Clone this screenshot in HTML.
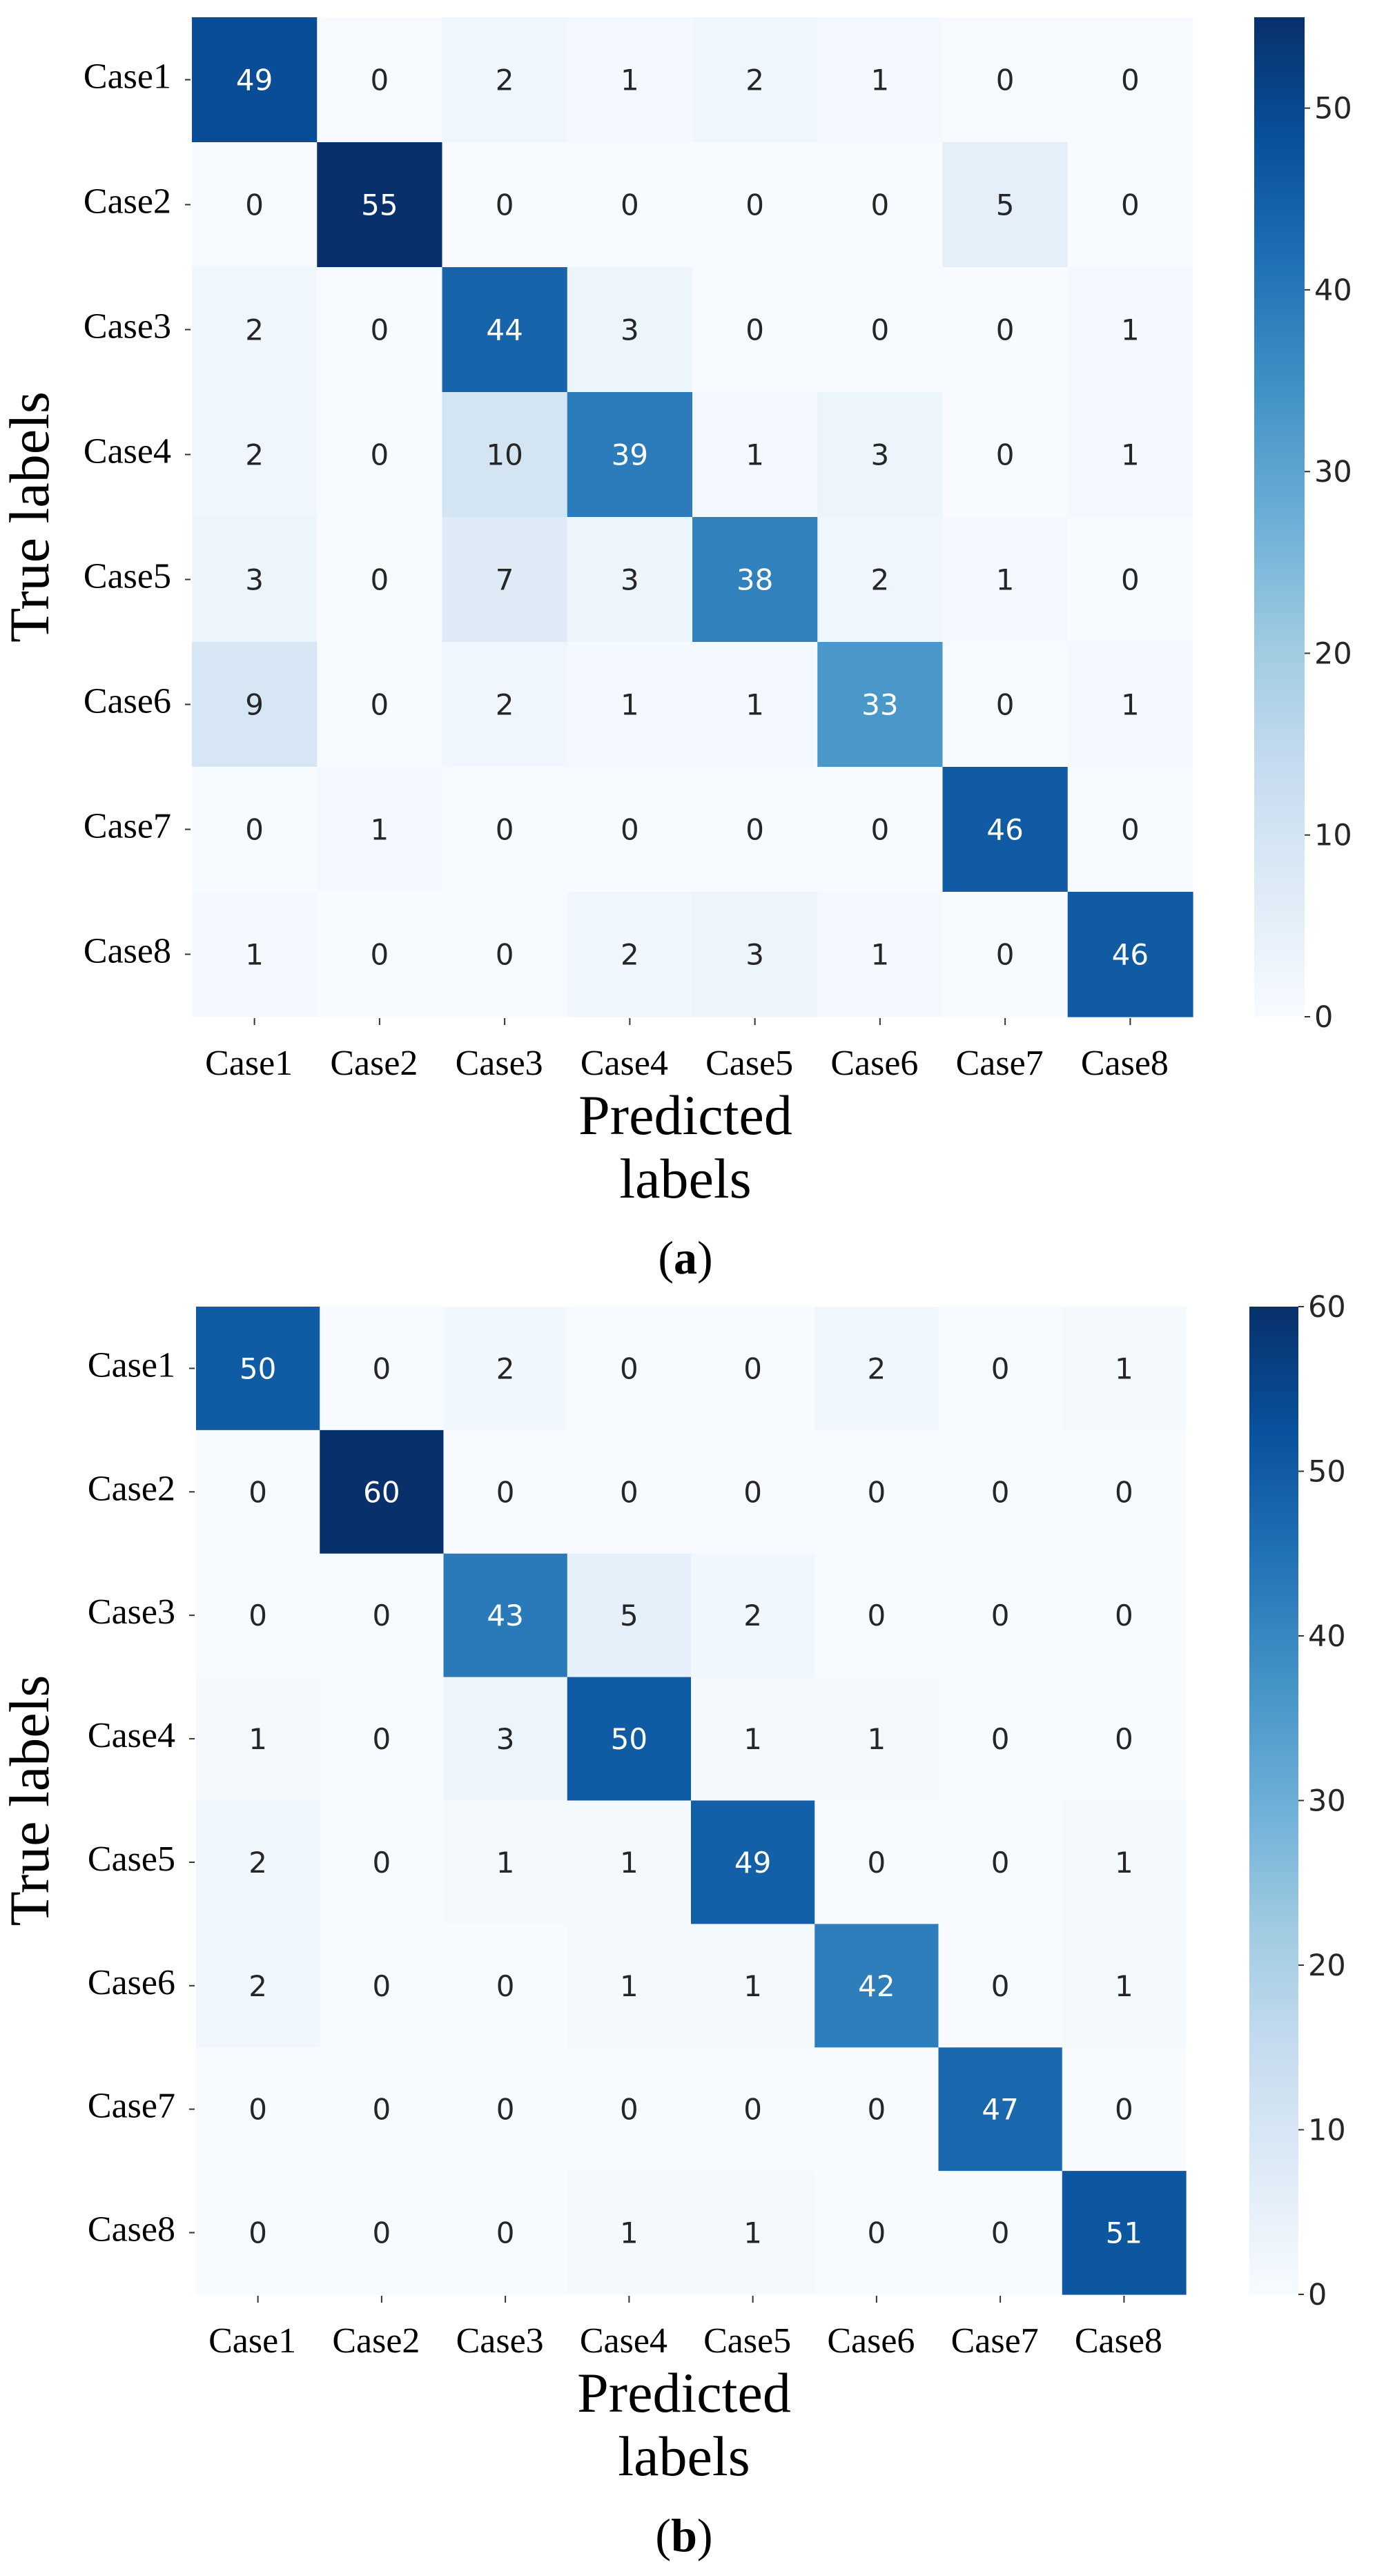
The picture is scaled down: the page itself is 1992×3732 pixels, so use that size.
<!DOCTYPE html>
<html><head><meta charset="utf-8"><style>
html,body{margin:0;padding:0;background:#fff;}
svg{display:block;}
.tick{font-family:"Liberation Serif",serif;font-size:52px;fill:#000;}
.axl{font-family:"Liberation Serif",serif;font-size:82px;fill:#000;}
.ann{font-family:"DejaVu Sans",sans-serif;font-size:42px;}
.cbt{font-family:"DejaVu Sans",sans-serif;font-size:43px;fill:#262626;}
</style></head><body>
<svg id="fig" width="1992" height="3732" viewBox="0 0 1992 3732" xmlns="http://www.w3.org/2000/svg"></svg>
<script>
const categories = ["Case1","Case2","Case3","Case4","Case5","Case6","Case7","Case8"];
const matrixA = [
 [49,0,2,1,2,1,0,0],
 [0,55,0,0,0,0,5,0],
 [2,0,44,3,0,0,0,1],
 [2,0,10,39,1,3,0,1],
 [3,0,7,3,38,2,1,0],
 [9,0,2,1,1,33,0,1],
 [0,1,0,0,0,0,46,0],
 [1,0,0,2,3,1,0,46]
];
const matrixB = [
 [50,0,2,0,0,2,0,1],
 [0,60,0,0,0,0,0,0],
 [0,0,43,5,2,0,0,0],
 [1,0,3,50,1,1,0,0],
 [2,0,1,1,49,0,0,1],
 [2,0,0,1,1,42,0,1],
 [0,0,0,0,0,0,47,0],
 [0,0,0,1,1,0,0,51]
];
const ticksA = [0,10,20,30,40,50];
const ticksB = [0,10,20,30,40,50,60];
const vmaxA = 55, vmaxB = 60;
const captionA = "a", captionB = "b";

const NS="http://www.w3.org/2000/svg";
const svg=document.getElementById('fig');
const stops=["#f7fbff","#deebf7","#c6dbef","#9ecae1","#6baed6","#4292c6","#2171b5","#08519c","#08306b"].map(h=>[parseInt(h.slice(1,3),16),parseInt(h.slice(3,5),16),parseInt(h.slice(5,7),16)]);
function cmap(t){t=Math.max(0,Math.min(1,t));const p=t*8,i=Math.min(7,Math.floor(p)),f=p-i;const c=stops[i].map((v,k)=>Math.round(v+(stops[i+1][k]-v)*f));return c;}
function rgb(c){return `rgb(${c[0]},${c[1]},${c[2]})`;}
function lum(c){const l=c.map(v=>{v/=255;return v<=0.03928?v/12.92:Math.pow((v+0.055)/1.055,2.4)});return 0.2126*l[0]+0.7152*l[1]+0.0722*l[2];}
function el(tag,attrs,parent){const e=document.createElementNS(NS,tag);for(const k in attrs)e.setAttribute(k,attrs[k]);(parent||svg).appendChild(e);return e;}

function drawChart(g,matrix,ticks,vmax,caption,L){
  const n=categories.length, cw=(L.x1-L.x0)/n, ch=(L.y1-L.y0)/n;
  const xS=i=>L.x0+cw*i, yS=i=>L.y0+ch*i;
  for(let r=0;r<n;r++)for(let c=0;c<n;c++){
    const v=matrix[r][c], col=cmap(v/vmax);
    const rc=el('rect',{x:xS(c),y:yS(r),width:cw+0.6,height:ch+0.6,fill:rgb(col)},g);
    
    
    const t=el('text',{x:xS(c)+cw/2,y:yS(r)+ch/2+15,'text-anchor':'middle',class:'ann',fill:lum(col)<0.408?'#ffffff':'#262626'},g);
    t.textContent=v;
    
    
  }
  for(let i=0;i<n;i++){
    const yc=yS(i)+ch/2;
    el('line',{x1:L.x0-10,x2:L.x0-2,y1:yc,y2:yc,stroke:'#333','stroke-width':2},g);
    const t=el('text',{x:L.x0-30,y:yc+12,'text-anchor':'end',class:'tick'},g);
    t.textContent=categories[i];
    
    
    const xc=xS(i)+cw/2;
    el('line',{x1:xc,x2:xc,y1:L.y1+2,y2:L.y1+12,stroke:'#333','stroke-width':2},g);
    const u=el('text',{x:xc-8,y:L.y1+84,'text-anchor':'middle',class:'tick'},g);
    u.textContent=categories[i];
    
    
  }
  // colorbar
  const gid='grad'+caption;
  const defs=el('defs',{},g);
  const lg=el('linearGradient',{id:gid,x1:0,y1:1,x2:0,y2:0},defs);
  for(let k=0;k<=16;k++){const c=cmap(k/16);el('stop',{offset:k/16,'stop-color':rgb(c)},lg);}
  const cb=el('rect',{x:L.cx0,y:L.y0,width:L.cx1-L.cx0,height:L.y1-L.y0,fill:`url(#${gid})`},g);
  
  
  const cS=v=>L.y1-(L.y1-L.y0)*v/vmax;
  ticks.forEach(v=>{
    const y=cS(v);
    el('line',{x1:L.cx1,x2:L.cx1+8,y1:y,y2:y,stroke:'#333','stroke-width':2},g);
    const t=el('text',{x:L.cx1+14,y:y+15,class:'cbt'},g);
    t.textContent=v;
    
    
  });
  const yl=el('text',{x:0,y:0,class:'axl','text-anchor':'middle',transform:`translate(70,${(L.y0+L.y1)/2}) rotate(-90)`},g);
  yl.textContent='True labels';
  
  
  const xl1=el('text',{x:(L.x0+L.x1)/2-10,y:L.y1+170,class:'axl','text-anchor':'middle'},g);
  xl1.textContent='Predicted';
  
  
  const xl2=el('text',{x:(L.x0+L.x1)/2-10,y:L.y1+262,class:'axl','text-anchor':'middle'},g);
  xl2.textContent='labels';
  
  
  const cap=el('text',{x:(L.x0+L.x1)/2-10,y:L.y1+372,class:'axl','text-anchor':'middle','font-size':'68px'},g);
  cap.setAttribute('style','font-size:68px');
  cap.innerHTML='(<tspan font-weight="bold">'+caption+'</tspan>)';
  
  
}
const gA=el('g',{});


drawChart(gA,matrixA,ticksA,vmaxA,captionA,{x0:278,x1:1728,y0:25,y1:1473,cx0:1817,cx1:1890});
const gB=el('g',{});


drawChart(gB,matrixB,ticksB,vmaxB,captionB,{x0:284,x1:1718,y0:1893,y1:3324,cx0:1810,cx1:1881});
</script>
</body></html>
